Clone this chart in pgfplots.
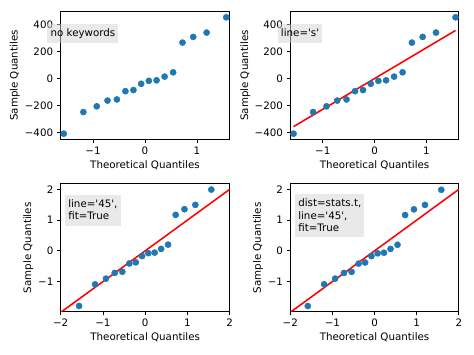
\documentclass[border=0pt]{standalone}
\usepackage{pgfplots}
\pgfplotsset{compat=1.18}
\usepackage{fontspec}
\setmainfont{DejaVu Sans}[Ligatures=TeXOff]
\definecolor{mplblue}{HTML}{1F77B4}
\definecolor{boxgray}{HTML}{D3D3D3}
\newcommand\fs{\fontsize{10.28bp}{12.3bp}\selectfont}
\newcommand\st{\rule[-3bp]{0pt}{12.3bp}}

\pgfplotsset{
  qq/.style={
    scale only axis, height=128bp,
    axis line style={line width=0.8bp, black},
    every tick/.style={black, line width=0.8bp},
    major tick length=3.6bp,
    tick align=outside,
    tick pos=left,
    xticklabel style={font=\fs, anchor=north, inner sep=0pt, yshift=-3.6bp},
    yticklabel style={font=\fs, anchor=east, inner sep=0pt, xshift=-3.6bp},
    xlabel={Theoretical Quantiles},
    ylabel={Sample Quantiles},
    every axis x label/.style={at={(axis description cs:0.5,-0.199)}, anchor=center, font=\fs},
    every axis y label/.style={at={(axis description cs:#1,0.5)}, rotate=90, anchor=center, font=\fs},
  },
  pts/.style={only marks, mark=*, mark size=3.1bp, mark options={draw=mplblue, fill=mplblue, line width=0.4bp}},
  rline/.style={no marks, red, line width=1.54bp},
}

\pgfplotstableread{
x y
-1.5647 -410.11
-1.1868 -249.31
-0.9289 -206.76
-0.7215 -164.05
-0.5414 -155.55
-0.3774 -94.01
-0.2230 -85.67
-0.0738 -39.06
0.0738 -17.27
0.2230 -13.18
0.3774 14.30
0.5414 46.29
0.7215 267.34
0.9289 309.71
1.1868 341.93
1.5647 455.39
}\resid

\pgfplotstableread{
x y
-1.5647 -1.7937
-1.1868 -1.0904
-0.9289 -0.9043
-0.7215 -0.7175
-0.5414 -0.6803
-0.3774 -0.4112
-0.2230 -0.3747
-0.0738 -0.1708
0.0738 -0.0755
0.2230 -0.0576
0.3774 0.0625
0.5414 0.2025
0.7215 1.1692
0.9289 1.3546
1.1868 1.4955
1.5647 1.9917
}\stdnorm

\pgfplotstableread{
x y
-1.585 -1.7950
-1.197 -1.0880
-0.935 -0.9040
-0.726 -0.7190
-0.545 -0.6850
-0.379 -0.4150
-0.224 -0.3800
-0.074 -0.1710
0.074 -0.0800
0.224 -0.0610
0.379 0.0640
0.545 0.1980
0.726 1.1650
0.935 1.3500
1.197 1.4950
1.585 1.9850
}\stdt

\begin{document}
\begin{tikzpicture}
\useasboundingbox (0,0) rectangle (474bp,355bp);

% panel 1
\begin{axis}[qq={-0.271}, width=169bp, at={(60.5bp,215.5bp)}, anchor=south west,
  xmin=-1.6273, xmax=1.6273, ymin=-453.38, ymax=498.66,
  xtick={-1,0,1}, xticklabels={−1,0,1},
  ytick={-400,-200,0,200,400}, yticklabels={−400,−200,0,200,400}]
\addplot[pts] table[x=x,y=y] {\resid};
\end{axis}

% panel 2
\begin{axis}[qq={-0.267}, width=168.5bp, at={(290.3bp,215.5bp)}, anchor=south west,
  xmin=-1.6273, xmax=1.6273, ymin=-453.38, ymax=498.66,
  xtick={-1,0,1}, xticklabels={−1,0,1},
  ytick={-400,-200,0,200,400}, yticklabels={−400,−200,0,200,400}]
\addplot[pts] table[x=x,y=y] {\resid};
\addplot[rline] coordinates {(-1.5647,-357.76) (1.5647,357.76)};
\end{axis}

% panel 3
\begin{axis}[qq={-0.192}, width=169bp, at={(60.7bp,43.2bp)}, anchor=south west,
  xmin=-2, xmax=2, ymin=-1.983, ymax=2.181,
  xtick={-2,-1,0,1,2}, xticklabels={−2,−1,0,1,2},
  ytick={-1,0,1,2}, yticklabels={−1,0,1,2}]
\addplot[pts] table[x=x,y=y] {\stdnorm};
\addplot[rline] coordinates {(-1.983,-1.983) (2.181,2.181)};
\end{axis}

% panel 4
\begin{axis}[qq={-0.192}, width=168.5bp, at={(290.3bp,43.2bp)}, anchor=south west,
  xmin=-2, xmax=2, ymin=-1.983, ymax=2.181,
  xtick={-2,-1,0,1,2}, xticklabels={−2,−1,0,1,2},
  ytick={-1,0,1,2}, yticklabels={−1,0,1,2}]
\addplot[pts] table[x=x,y=y] {\stdt};
\addplot[rline] coordinates {(-1.983,-1.983) (2.181,2.181)};
\end{axis}

\tikzset{qbox/.style={anchor=west, fill=boxgray, fill opacity=0.5, text opacity=1, inner sep=3.08bp, font=\fs, align=left}}
\node[qbox] at (47.3bp,321.5bp) {\st no keywords};
\node[qbox] at (277.7bp,321.5bp) {\st line='s'};
\node[qbox] at (65bp,144.3bp) {\st line='45',\\\st fit=True};
\node[qbox] at (295bp,139.1bp) {\st dist=stats.t,\\\st line='45',\\\st fit=True};
\end{tikzpicture}
\end{document}
